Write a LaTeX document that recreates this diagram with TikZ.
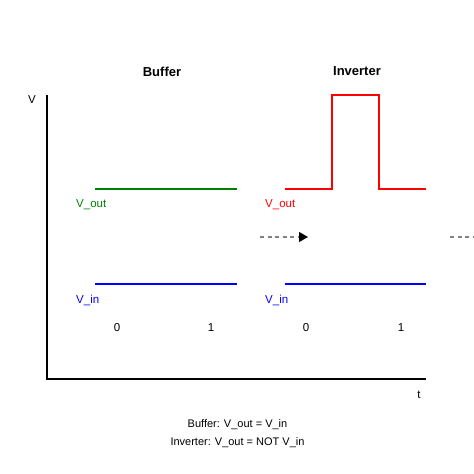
\documentclass[tikz,border=0pt]{standalone}
\usepackage{fontspec}
\setmainfont{Liberation Sans}
\usetikzlibrary{arrows.meta}
\begin{document}
\begin{tikzpicture}[x=1pt,y=-1pt,
  axis/.style={line width=2pt,black},
  wave/.style={line width=2pt},
  title/.style={font=\fontsize{13}{15}\selectfont\bfseries},
  lbl/.style={font=\fontsize{11.5}{13}\selectfont, anchor=west, inner sep=0pt},
  tick/.style={font=\fontsize{11.5}{13}\selectfont, inner sep=0pt},
  note/.style={font=\fontsize{11}{13}\selectfont, inner sep=0pt},
  flow/.style={gray, line width=1.3pt, dash pattern=on 4pt off 3.5pt}]
\useasboundingbox (0,0) rectangle (474,474);
\fill[white] (0,0) rectangle (474,474);
% axes
\coordinate (o) at (47,379);
\coordinate (ytop) at (47,95);
\coordinate (xend) at (426,379);
\draw[axis] (ytop) -- (o) -- (xend);
\node[tick] (vlab) at (32,100) {V};
\node[tick] (tlab) at (419,394.5) {t};
% titles
\node[title] (tbuf) at (162,71.5) {Buffer};
\node[title] (tinv) at (357,71.5) {Inverter};
% buffer output
\coordinate (bo1) at (95,189);
\coordinate (bo2) at (237,189);
\draw[wave, green!50!black] (bo1) -- (bo2);
\node[lbl, green!50!black] (bvout) at (76,205) {V\_out};
% inverter output
\coordinate (io1) at (285,189);
\coordinate (io2) at (332,189);
\coordinate (io3) at (332,95);
\coordinate (io4) at (379,95);
\coordinate (io5) at (379,189);
\coordinate (io6) at (426,189);
\draw[wave, red] (io1) -- (io2) -- (io3) -- (io4) -- (io5) -- (io6);
\node[lbl, red] (ivout) at (265,205) {V\_out};
% dashed arrows
\coordinate (a1) at (260,237);
\coordinate (a2) at (308,237);
\draw[flow, -{Triangle[length=9pt,width=10pt,color=black]}] (a1) -- (a2);
\coordinate (b1) at (450,237);
\coordinate (b2) at (474,237);
\draw[flow] (b1) -- (b2);
% inputs
\coordinate (bi1) at (95,284);
\coordinate (bi2) at (237,284);
\draw[wave, blue] (bi1) -- (bi2);
\node[lbl, blue] (bvin) at (76,300) {V\_in};
\coordinate (ii1) at (285,284);
\coordinate (ii2) at (426,284);
\draw[wave, blue] (ii1) -- (ii2);
\node[lbl, blue] (ivin) at (265,300) {V\_in};
% ticks
\node[tick] (t0a) at (117,328) {0};
\node[tick] (t1a) at (211,328) {1};
\node[tick] (t0b) at (306,328) {0};
\node[tick] (t1b) at (401,328) {1};
% notes
\node[note] (n1) at (237.5,424.5) {Buffer: V\_out = V\_in};
\node[note] (n2) at (237.5,442.5) {Inverter: V\_out = NOT V\_in};
\end{tikzpicture}
\end{document}
